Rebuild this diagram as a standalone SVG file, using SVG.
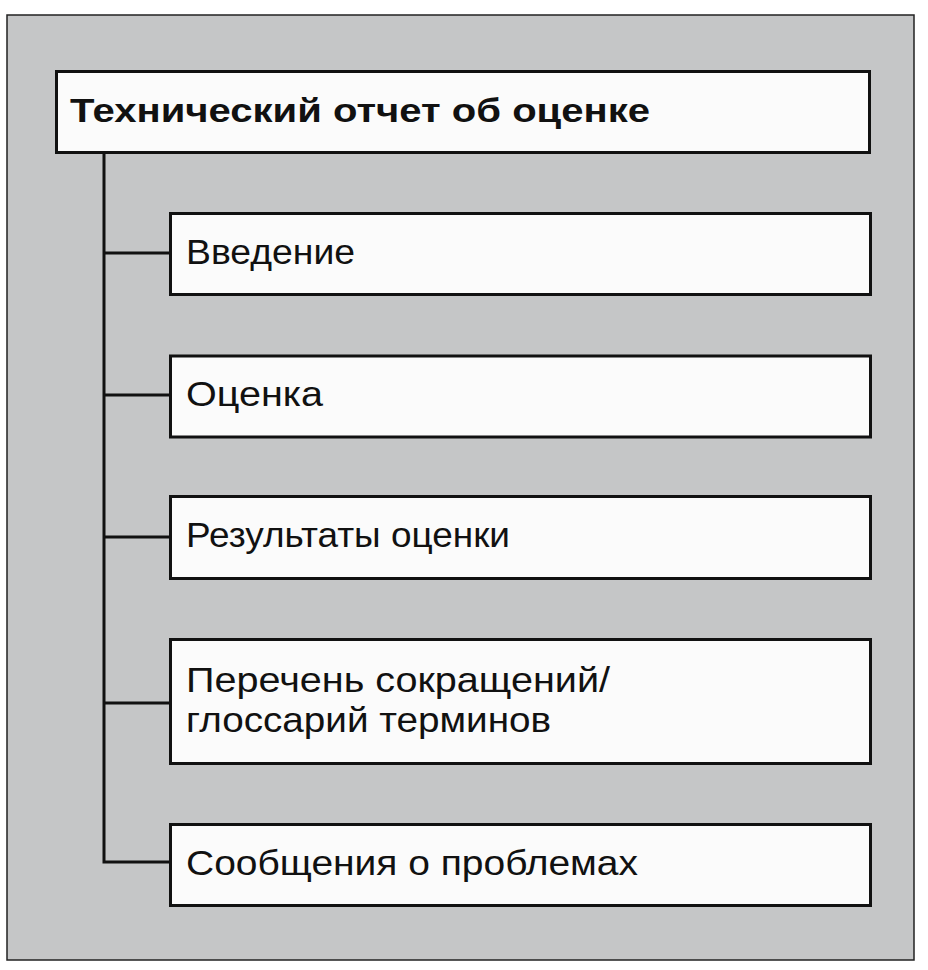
<svg xmlns="http://www.w3.org/2000/svg" width="928" height="970" viewBox="0 0 928 970">
<style>
.box{fill:#fbfbfb;stroke:#111;stroke-width:3}
.conn{stroke:#111;stroke-width:3;fill:none}
.t{font-family:"Liberation Sans",Arial,sans-serif;font-size:35px;fill:#111}
.title{font-weight:bold;font-size:34px}
</style>
<rect x="0" y="0" width="928" height="970" fill="#ffffff"/>
<rect id="panel" x="7" y="15" width="907" height="945" fill="#c5c6c7" stroke="#222" stroke-width="1.5"/>
<g id="connectors">
<path class="conn" d="M104 154V863.5M102.5 253H170M102.5 395H170M102.5 537H170M102.5 703H170M102.5 862H170"/>
</g>
<g id="root">
<rect class="box" x="56.5" y="71.5" width="813" height="81"/>
<text class="t title" x="70" y="122" textLength="580" lengthAdjust="spacingAndGlyphs">Технический отчет об оценке</text>
</g>
<g id="n1">
<rect class="box" x="170.5" y="213.5" width="700" height="81"/>
<text class="t" x="186" y="264" textLength="169" lengthAdjust="spacingAndGlyphs">Введение</text>
</g>
<g id="n2">
<rect class="box" x="170.5" y="356" width="700" height="81"/>
<text class="t" x="186" y="406" textLength="137" lengthAdjust="spacingAndGlyphs">Оценка</text>
</g>
<g id="n3">
<rect class="box" x="170.5" y="496.5" width="700" height="82"/>
<text class="t" x="186" y="547" textLength="324" lengthAdjust="spacingAndGlyphs">Результаты оценки</text>
</g>
<g id="n4">
<rect class="box" x="170.5" y="639.5" width="700" height="124"/>
<text class="t" x="186" y="692" textLength="424" lengthAdjust="spacingAndGlyphs">Перечень сокращений/</text>
<text class="t" x="186" y="732" textLength="365" lengthAdjust="spacingAndGlyphs">глоссарий терминов</text>
</g>
<g id="n5">
<rect class="box" x="170.5" y="824.5" width="700" height="81"/>
<text class="t" x="186" y="875" textLength="452" lengthAdjust="spacingAndGlyphs">Сообщения о проблемах</text>
</g>
</svg>
